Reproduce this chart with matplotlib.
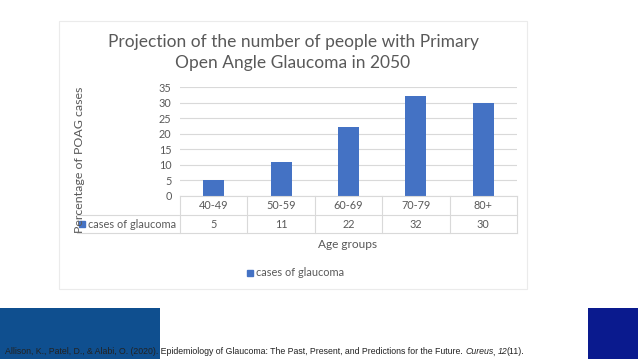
import matplotlib.pyplot as plt
from matplotlib.patches import Rectangle
from matplotlib.lines import Line2D

# data
age_groups = ["40-49", "50-59", "60-69", "70-79", "80+"]
cases = [5, 11, 22, 32, 30]
yticks = [0, 5, 10, 15, 20, 25, 30, 35]

W, H = 638, 359
plt.rcParams["font.family"] = ["Lato", "DejaVu Sans"]
fig = plt.figure(figsize=(W / 100, H / 100), dpi=100)
fig.patch.set_facecolor("white")

def fx(px):
    return px / W

def fy(py):
    return 1 - py / H

grey_txt = "#595959"
bar_col = "#4472C4"
line_col = "#D9D9D9"

# chart frame
fig.add_artist(Rectangle((fx(59), fy(289)), fx(527) - fx(59), fy(21) - fy(289),
                         transform=fig.transFigure, fill=False, ec="#EBEBEB", lw=0.8))

fig.text(fx(293), fy(52.5), "Projection of the number of people with Primary\nOpen Angle Glaucoma in 2050",
         ha="center", va="center", fontsize=12.5, color=grey_txt, linespacing=1.35)

# plot area
left, right, top, bottom = 180, 517, 87, 196
ax = fig.add_axes([fx(left), fy(bottom), fx(right) - fx(left), fy(top) - fy(bottom)])
x = list(range(len(age_groups)))
ax.bar(x, cases, width=0.31, color=bar_col, zorder=3)
ax.set_xlim(-0.5, len(age_groups) - 0.5)
ax.set_ylim(0, 35)
ax.set_yticks(yticks)
ax.set_yticklabels([str(t) for t in yticks], fontsize=7.8, color=grey_txt)
ax.tick_params(axis="y", length=0, pad=6)
ax.set_xticks([])
ax.grid(axis="y", color=line_col, lw=0.8, zorder=0)
for s in ax.spines.values():
    s.set_visible(False)

# data table under the axis
tr = ax.get_xaxis_transform()
row1, row2, row3 = 196, 215, 233

def to_axes_y(py):
    return (bottom - py) / (bottom - top)

fig.add_artist(Line2D([fx(left), fx(right)], [fy(row1), fy(row1)], transform=fig.transFigure,
                      color=line_col, lw=0.8))
for yy in (row2, row3):
    fig.add_artist(Line2D([fx(77), fx(right)], [fy(yy), fy(yy)], transform=fig.transFigure,
                          color=line_col, lw=0.8))
for b in range(len(age_groups) + 1):
    ax.plot([b - 0.5, b - 0.5], [to_axes_y(row1), to_axes_y(row3)], transform=tr,
            color=line_col, lw=0.8, clip_on=False)

for i, (g, c) in enumerate(zip(age_groups, cases)):
    ax.text(i, to_axes_y((row1 + row2) / 2), g, transform=tr, ha="center", va="center",
            fontsize=7.8, color=grey_txt)
    ax.text(i, to_axes_y((row2 + row3) / 2), str(c), transform=tr, ha="center", va="center",
            fontsize=7.8, color=grey_txt)

fig.add_artist(Rectangle((fx(79), fy(227)), fx(85) - fx(79), fy(221) - fy(227),
                         transform=fig.transFigure, color=bar_col))
fig.text(fx(88), fy(224), "cases of glaucoma", ha="left", va="center", fontsize=7.95, color=grey_txt)

fig.text(fx(80), fy(160), "Percentage of POAG cases", rotation=90, ha="center", va="center",
         fontsize=8.9, color=grey_txt)
fig.text(fx(348), fy(244), "Age groups", ha="center", va="center", fontsize=8.6, color=grey_txt)

# legend
fig.add_artist(Rectangle((fx(247), fy(276)), fx(253) - fx(247), fy(270) - fy(276),
                         transform=fig.transFigure, color=bar_col))
fig.text(fx(256), fy(273), "cases of glaucoma", ha="left", va="center", fontsize=7.9, color=grey_txt)

# slide decorations
fig.add_artist(Rectangle((0, 0), fx(160), fy(308), transform=fig.transFigure, color="#0F4F8F", lw=0))
fig.add_artist(Rectangle((fx(588), 0), 1 - fx(588), fy(308), transform=fig.transFigure,
                         color="#0A1A8E", lw=0))

# citation, pieces laid out one after another (some in italics)
pieces = [
    ("Allison, K., Patel, D., & Alabi, O. (2020). Epidemiology of Glaucoma: The Past, Present, and "
     "Predictions for the Future. ", "normal"),
    ("Cureus", "italic"),
    (", ", "normal"),
    ("12", "italic"),
    ("(11).", "normal"),
]
renderer = fig.canvas.get_renderer()
xpos = 5
for txt, style in pieces:
    t = fig.text(fx(xpos), fy(352), txt, ha="left", va="center", fontsize=6.3, color="#222222",
                 family="Liberation Sans", style=style)
    bb = t.get_window_extent(renderer)
    xpos += bb.width
    if style == "italic":
        xpos -= 0.8

fig.savefig("out.png", dpi=100)
